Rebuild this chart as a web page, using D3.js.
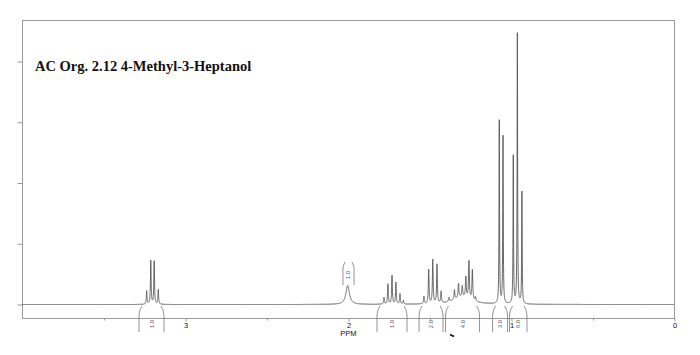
<!DOCTYPE html>
<html>
<head>
<meta charset="utf-8">
<script src="https://cdn.jsdelivr.net/npm/d3@7"></script>
<style>
body { margin: 0; background: #fff; }
svg { display: block; }
.axis text { font-family: "Liberation Sans", Arial, sans-serif; font-size: 7.5px; fill: #111; }
.axis line, .axis path { stroke: #999; }
</style>
</head>
<body>
<svg id="chart" width="700" height="355"></svg>
<script>
var width = 700, height = 355;

var title = "AC Org. 2.12 4-Methyl-3-Heptanol";
var ppmTicks = [3, 2, 1, 0];
var ppmMinor = [3.5, 2.5, 1.5, 0.5];
var yTicks = [0, 1, 2, 3, 4];

// peak list: position (ppm), height, half width (ppm)
var peakPpm    = [3.235, 3.210, 3.189, 3.164,
                  2.002,
                  1.779, 1.755, 1.730, 1.706, 1.681, 1.660,
                  1.534, 1.505, 1.480, 1.454, 1.429,
                  1.300, 1.380, 1.347, 1.322, 1.299, 1.277, 1.258, 1.237, 1.218,
                  1.072, 1.049, 0.986, 0.961, 0.933];
var peakHeight = [0.22, 0.72, 0.71, 0.24,
                  0.31,
                  0.11, 0.33, 0.47, 0.36, 0.17, 0.06,
                  0.12, 0.56, 0.72, 0.64, 0.19,
                  0.12, 0.07, 0.16, 0.23, 0.18, 0.34, 0.62, 0.50, 0.07,
                  3.02, 2.76, 2.44, 4.45, 1.85];
var peakWidth  = [0.0024, 0.0024, 0.0024, 0.0024,
                  0.013,
                  0.0026, 0.0026, 0.0026, 0.0026, 0.0026, 0.0026,
                  0.0026, 0.0026, 0.0026, 0.0026, 0.0026,
                  0.065, 0.003, 0.003, 0.003, 0.003, 0.003, 0.003, 0.003, 0.003,
                  0.0018, 0.0018, 0.0018, 0.0018, 0.0018];

// integral regions
var integralFrom  = [3.282, 2.031, 1.822, 1.564, 1.402, 1.113, 1.009];
var integralTo    = [3.129, 1.963, 1.638, 1.417, 1.193, 1.021, 0.902];
var integralLabel = ["1.0", "1.0", "1.0", "2.0", "4.0", "3.0", "6.0"];
var integralUp    = [false, true, false, false, false, false, false];

var svg = d3.select("#chart");

var x = d3.scaleLinear().domain([4, 0]).range([22, 674]);
var y = d3.scaleLinear().domain([0, 4]).range([304, 61]);

var frameTop = 20, frameBottom = 318;

// frame
svg.append("rect")
    .attr("x", x(4) + 0.5).attr("y", frameTop + 0.5)
    .attr("width", x(0) - x(4)).attr("height", frameBottom - frameTop)
    .attr("fill", "none").attr("stroke", "#999").attr("stroke-width", 1);

// y axis ticks
svg.append("g")
    .attr("class", "axis")
    .attr("transform", "translate(" + (x(4) + 0.5) + ",0.5)")
    .call(d3.axisLeft(y).tickValues(yTicks).tickSize(5).tickFormat(""))
    .select(".domain").remove();

// x axis
var xAxis = svg.append("g")
    .attr("class", "axis")
    .attr("transform", "translate(0.5," + (frameBottom + 0.5) + ")")
    .call(d3.axisBottom(x).tickValues(ppmTicks).tickSize(3).tickPadding(1).tickFormat(d3.format("d")));
xAxis.select(".domain").remove();

svg.append("g")
    .attr("class", "axis")
    .attr("transform", "translate(0.5," + (frameBottom + 0.5) + ")")
    .call(d3.axisBottom(x).tickValues(ppmMinor).tickSize(2).tickFormat(""))
    .select(".domain").remove();

svg.append("text")
    .attr("x", x(2) + 0.5).attr("y", 336)
    .attr("text-anchor", "middle")
    .style("font-family", "Liberation Sans, Arial, sans-serif")
    .style("font-size", "7.5px").style("fill", "#111")
    .text("PPM");

// spectrum
function intensity(p) {
    var s = 0;
    for (var i = 0; i < peakPpm.length; i++) {
        var g = peakWidth[i], d = p - peakPpm[i];
        s += peakHeight[i] * g * g / (d * d + g * g);
    }
    return s;
}

var pts = [];
for (var px = x(4); px <= x(0); px += 0.05) {
    var p = x.invert(px);
    pts.push([p, intensity(p)]);
}

var line = d3.line()
    .x(function(d) { return x(d[0]); })
    .y(function(d) { return y(d[1]) + 0.5; });

svg.append("path")
    .datum(pts)
    .attr("d", line)
    .attr("fill", "none")
    .attr("stroke", "#555")
    .attr("stroke-width", 0.9);

// integrals
var ig = svg.append("g").attr("stroke", "#777").attr("fill", "none").attr("stroke-width", 0.8);
integralFrom.forEach(function(f, i) {
    var x1 = x(f), x2 = x(integralTo[i]);
    if (integralUp[i]) {
        ig.append("path").attr("d", "M" + (x1 + 2) + ",262 L" + x1 + ",267 L" + x1 + ",285");
        ig.append("path").attr("d", "M" + (x2 - 2) + ",262 L" + x2 + ",267 L" + x2 + ",285");
        svg.append("text")
            .attr("transform", "translate(" + ((x1 + x2) / 2 + 2) + ",275) rotate(-90)")
            .attr("text-anchor", "middle")
            .style("font-family", "Liberation Sans, Arial, sans-serif")
            .style("font-size", "6px").style("fill", "#555")
            .text(integralLabel[i]);
    } else {
        ig.append("path").attr("d", "M" + (x1 + 3) + ",306 Q" + (x1 + 0.5) + ",309 " + x1 + ",315 L" + x1 + ",332");
        ig.append("path").attr("d", "M" + (x2 - 3) + ",306 Q" + (x2 - 0.5) + ",309 " + x2 + ",315 L" + x2 + ",332");
        svg.append("text")
            .attr("transform", "translate(" + ((x1 + x2) / 2 + 2) + ",324) rotate(-90)")
            .attr("text-anchor", "middle")
            .style("font-family", "Liberation Sans, Arial, sans-serif")
            .style("font-size", "6px").style("fill", "#555")
            .text(integralLabel[i]);
    }
});

// stray mark under the 4.0 integral
svg.append("line")
    .attr("x1", 450).attr("y1", 334.5).attr("x2", 454).attr("y2", 336.5)
    .attr("stroke", "#111").attr("stroke-width", 1.6);

// title
svg.append("text")
    .attr("x", 35).attr("y", 71)
    .style("font-family", "Liberation Serif, Times New Roman, serif")
    .style("font-weight", "bold")
    .style("font-size", "14.5px")
    .style("fill", "#111")
    .text(title);
</script>
</body>
</html>
